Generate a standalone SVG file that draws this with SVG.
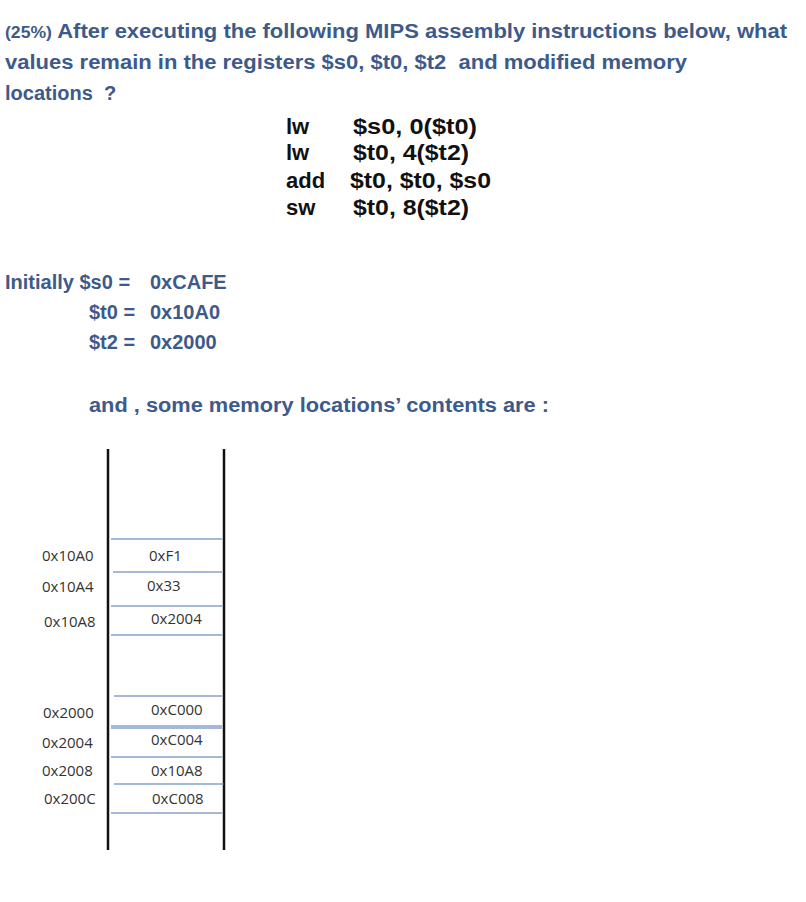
<svg xmlns="http://www.w3.org/2000/svg" width="806" height="902" viewBox="0 0 806 902">
<style>
.t{font-family:"Liberation Sans",Arial,sans-serif;font-weight:bold;fill:#3d5a8a;font-size:20px;white-space:pre}
.c{font-family:"Liberation Sans",Arial,sans-serif;font-weight:bold;fill:#111;font-size:22px}
.m{font-family:"Open Sans","Liberation Sans",sans-serif;fill:#333;font-size:15px}
.v{stroke:#111;stroke-width:2.5}
.h{stroke:#4a72b0;stroke-width:1.2}
</style>
<rect width="806" height="902" fill="#fff"/>
<g id="question">
<text class="t" x="5" y="38" textLength="782" lengthAdjust="spacingAndGlyphs"><tspan font-size="16">(25%)</tspan> After executing the following MIPS assembly instructions below, what</text>
<text class="t" x="5" y="69" textLength="682" lengthAdjust="spacingAndGlyphs">values remain in the registers $s0, $t0, $t2  and modified memory</text>
<text class="t" x="5" y="100">locations</text><text class="t" x="104" y="100">?</text>
</g>
<g id="code">
<text class="c" x="286" y="134">lw</text><text class="c" x="353" y="134" textLength="124" lengthAdjust="spacingAndGlyphs">$s0, 0($t0)</text>
<text class="c" x="286" y="160">lw</text><text class="c" x="353" y="160" textLength="116" lengthAdjust="spacingAndGlyphs">$t0, 4($t2)</text>
<text class="c" x="286" y="188">add</text><text class="c" x="350" y="188" textLength="141" lengthAdjust="spacingAndGlyphs">$t0, $t0, $s0</text>
<text class="c" x="286" y="215">sw</text><text class="c" x="353" y="215" textLength="116" lengthAdjust="spacingAndGlyphs">$t0, 8($t2)</text>
</g>
<g id="initial">
<text class="t" x="5" y="289">Initially $s0 =</text><text class="t" x="150" y="289">0xCAFE</text>
<text class="t" x="89" y="319">$t0 =</text><text class="t" x="150" y="319">0x10A0</text>
<text class="t" x="89" y="349">$t2 =</text><text class="t" x="150" y="349">0x2000</text>
<text class="t" x="89" y="412" textLength="460" lengthAdjust="spacingAndGlyphs">and , some memory locations’ contents are :</text>
</g>
<g id="memory">
<line class="v" x1="108" y1="449" x2="108" y2="850"/>
<line class="v" x1="224" y1="449" x2="224" y2="850"/>
<line class="h" x1="111" y1="539" x2="222" y2="539"/>
<line class="h" x1="113" y1="572" x2="222" y2="572"/>
<line class="h" x1="111" y1="606" x2="222" y2="606"/>
<line class="h" x1="111" y1="635" x2="222" y2="635"/>
<line class="h" x1="114" y1="696" x2="222" y2="696"/>
<line class="h" x1="111" y1="726" x2="222" y2="726"/>
<line class="h" x1="111" y1="728" x2="222" y2="728"/>
<line class="h" x1="111" y1="757" x2="222" y2="757"/>
<line class="h" x1="114" y1="784" x2="224" y2="784"/>
<line class="h" x1="111" y1="813" x2="222" y2="813"/>
<text class="m" x="42" y="561">0x10A0</text><text class="m" x="149" y="561">0xF1</text>
<text class="m" x="42" y="592">0x10A4</text><text class="m" x="147" y="591">0x33</text>
<text class="m" x="44" y="627">0x10A8</text><text class="m" x="151" y="624">0x2004</text>
<text class="m" x="43" y="718">0x2000</text><text class="m" x="151" y="715">0xC000</text>
<text class="m" x="42" y="748">0x2004</text><text class="m" x="151" y="745">0xC004</text>
<text class="m" x="42" y="776">0x2008</text><text class="m" x="151" y="776">0x10A8</text>
<text class="m" x="44" y="804">0x200C</text><text class="m" x="152" y="804">0xC008</text>
</g>
</svg>
